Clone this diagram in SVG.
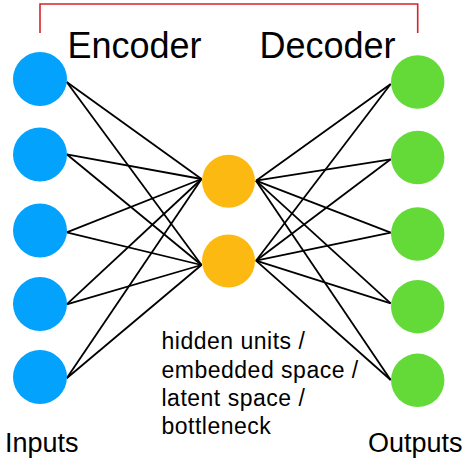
<svg xmlns="http://www.w3.org/2000/svg" width="475" height="473" viewBox="0 0 475 473">
<style>
.in{fill:#02a2fd}
.hid{fill:#fcb912}
.out{fill:#63da38}
.lbl{font-family:"Liberation Sans",Arial,sans-serif;fill:#000}
.big{font-size:36px}
.mid{font-size:27px}
.sm{font-size:23px;letter-spacing:0.5px}
#edges line{stroke:#000;stroke-width:1.8}
</style>
<rect width="475" height="473" fill="#fff"/>
<path id="bracket" d="M40,33 V4 H417.7 V33" fill="none" stroke="#d9222a" stroke-width="1.6"/>
<g id="edges">
<line x1="66.7" y1="82" x2="201.5" y2="179"/>
<line x1="66.7" y1="82" x2="201.5" y2="265"/>
<line x1="66.7" y1="154.3" x2="201.5" y2="179"/>
<line x1="66.7" y1="154.3" x2="201.5" y2="265"/>
<line x1="66.7" y1="232.3" x2="201.5" y2="179"/>
<line x1="66.7" y1="232.3" x2="201.5" y2="265"/>
<line x1="66.7" y1="304.3" x2="201.5" y2="179"/>
<line x1="66.7" y1="304.3" x2="201.5" y2="265"/>
<line x1="66.7" y1="378.3" x2="201.5" y2="179"/>
<line x1="66.7" y1="378.3" x2="201.5" y2="265"/>
<line x1="256" y1="180.7" x2="390.7" y2="84"/>
<line x1="256" y1="180.7" x2="390.7" y2="159.3"/>
<line x1="256" y1="180.7" x2="390.7" y2="232.7"/>
<line x1="256" y1="180.7" x2="390.7" y2="303.3"/>
<line x1="256" y1="180.7" x2="390.7" y2="380"/>
<line x1="256" y1="260.7" x2="390.7" y2="84"/>
<line x1="256" y1="260.7" x2="390.7" y2="159.3"/>
<line x1="256" y1="260.7" x2="390.7" y2="232.7"/>
<line x1="256" y1="260.7" x2="390.7" y2="303.3"/>
<line x1="256" y1="260.7" x2="390.7" y2="380"/>
</g>
<g id="in1"><circle class="in" cx="40" cy="79" r="27"/></g>
<g id="in2"><circle class="in" cx="40" cy="154.5" r="27"/></g>
<g id="in3"><circle class="in" cx="40" cy="230.5" r="27"/></g>
<g id="in4"><circle class="in" cx="40" cy="304" r="27"/></g>
<g id="in5"><circle class="in" cx="40" cy="377" r="27"/></g>
<g id="h1"><circle class="hid" cx="228.5" cy="181.2" r="26.5"/></g>
<g id="h2"><circle class="hid" cx="228.5" cy="261" r="26.5"/></g>
<g id="out1"><circle class="out" cx="417.7" cy="82" r="26.7"/></g>
<g id="out2"><circle class="out" cx="417.7" cy="157.5" r="26.7"/></g>
<g id="out3"><circle class="out" cx="417.7" cy="234" r="26.7"/></g>
<g id="out4"><circle class="out" cx="417.7" cy="306.7" r="26.7"/></g>
<g id="out5"><circle class="out" cx="417.7" cy="380.3" r="26.7"/></g>
<g id="labels">
<text class="lbl big" x="67.5" y="58.3">Encoder</text>
<text class="lbl big" x="259.5" y="58.3">Decoder</text>
<text class="lbl mid" x="5" y="451.7">Inputs</text>
<text class="lbl mid" x="368" y="451.7">Outputs</text>
<text class="lbl sm" x="161.5" y="349">hidden units /</text>
<text class="lbl sm" x="161.5" y="377.5">embedded space /</text>
<text class="lbl sm" x="161.5" y="406">latent space /</text>
<text class="lbl sm" x="161.5" y="434.3">bottleneck</text>
</g>
</svg>
